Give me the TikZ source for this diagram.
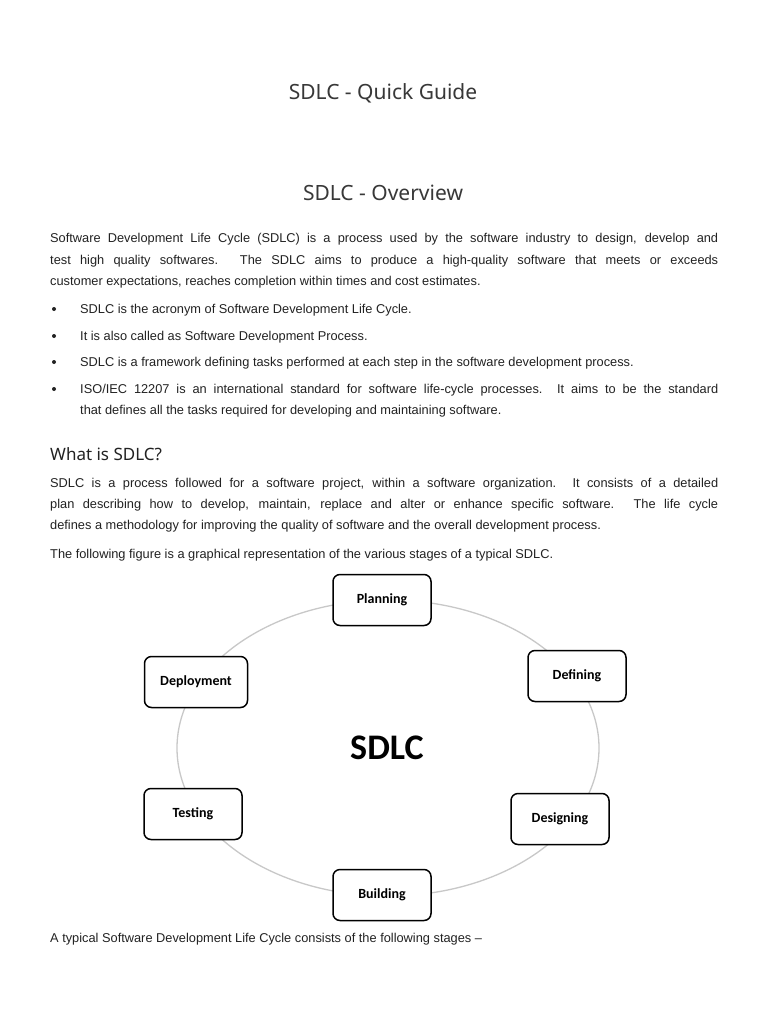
\documentclass[tikz,border=0pt]{standalone}
\usepackage{fontspec}
\setmainfont{Liberation Sans}
\newfontfamily\headfont{Noto Sans}
\newfontfamily\boxfont{Carlito}
\definecolor{txt}{HTML}{222222}
\definecolor{ring}{HTML}{C8C8C8}
\begin{document}
\begin{tikzpicture}[x=1pt,y=-1pt,
  body/.style={anchor=base west,inner sep=0pt,font=\fontsize{12.8}{15}\selectfont,text=txt},
  head/.style={inner sep=0pt,font=\headfont\fontsize{21}{25}\selectfont,text=txt!90},
  stage/.style={draw,line width=1.5pt,rounded corners=7pt,minimum width=98pt,minimum height=51pt,font=\boxfont\bfseries\fontsize{14}{16}\selectfont,fill=white}]
\useasboundingbox[fill=white] (0,0) rectangle (768,1024);
\node[head] (t1) at (383,93) {SDLC - Quick Guide};
\node[head] (t2) at (383,193) {SDLC - Overview};
\node[body] (p1) at (50,243) {\makebox[668pt][s]{Software Development Life Cycle (SDLC) is a process used by the software industry to design, develop and}};
\node[body] (p2) at (50,264) {\makebox[668pt][s]{test high quality softwares. The SDLC aims to produce a high-quality software that meets or exceeds}};
\node[body] (p3) at (50,285) {customer expectations, reaches completion within times and cost estimates.};
\foreach \y/\t [count=\i] in {313/SDLC is the acronym of Software Development Life Cycle.,340/It is also called as Software Development Process.,366/SDLC is a framework defining tasks performed at each step in the software development process.,393/{}}{
  \node[body] (b\i) at (80,\y) {\t};
  \fill[txt] (54,\y-4) circle (2pt);
}
\node[body] (b4a) at (80,393) {\makebox[638pt][s]{ISO/IEC 12207 is an international standard for software life-cycle processes. It aims to be the standard}};
\node[body] (b4b) at (80,414) {that defines all the tasks required for developing and maintaining software.};
\node[anchor=base west,inner sep=0pt,font=\headfont\bfseries\fontsize{17}{20}\selectfont,text=txt] (h3) at (50,460) {What is SDLC?};
\node[body] (q1) at (50,487) {\makebox[668pt][s]{SDLC is a process followed for a software project, within a software organization. It consists of a detailed}};
\node[body] (q2) at (50,508) {\makebox[668pt][s]{plan describing how to develop, maintain, replace and alter or enhance specific software. The life cycle}};
\node[body] (q3) at (50,529) {defines a methodology for improving the quality of software and the overall development process.};
\node[body] (q4) at (50,558) {The following figure is a graphical representation of the various stages of a typical SDLC.};
\draw[ring,line width=1.3pt] (388,748) ellipse (211pt and 148pt);
\node[font=\boxfont\bfseries\fontsize{36}{40}\selectfont] (c) at (387,748) {SDLC};
\node[stage] (pl) at (382,600) {Planning};
\node[stage] (de) at (577,676) {Defining};
\node[stage,minimum width=103pt] (dp) at (196,682) {Deployment};
\node[stage] (te) at (193,814) {Testing};
\node[stage] (ds) at (560,819) {Designing};
\node[stage] (bu) at (382,895) {Building};
\node[body] (last) at (50,942) {A typical Software Development Life Cycle consists of the following stages –};
\end{tikzpicture}
\end{document}
